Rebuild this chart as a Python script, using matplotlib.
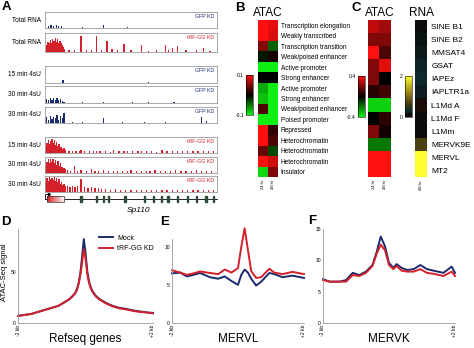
import numpy as np
import matplotlib
matplotlib.use('Agg')
import matplotlib.pyplot as plt
from matplotlib.colors import LinearSegmentedColormap, Normalize
from matplotlib.patches import Rectangle
import matplotlib.colorbar as mcolorbar

plt.rcParams['font.family'] = ['Liberation Sans', 'DejaVu Sans']

W, H = 474, 348
NAVY = '#1c2a6e'
RED = '#d3202a'

# ---------------- panel A : browser tracks ----------------
track_labels = ['Total RNA', 'Total RNA', '15 min 4sU', '30 min 4sU', '30 min 4sU',
                '15 min 4sU', '30 min 4sU', '30 min 4sU']
track_tags = ['GFP KD', 'tRF-GG KD', 'GFP KD', 'GFP KD', 'GFP KD',
              'tRF-GG KD', 'tRF-GG KD', 'tRF-GG KD']

t1_pos = [2.0, 3.5, 5.0, 6.5, 8.0, 9.5, 22, 34, 48]
t1_h = [0.12, 0.18, 0.1, 0.16, 0.14, 0.1, 0.05, 0.2, 0.05]

t2_pos = [1, 1.7, 2.4, 3.1, 3.8, 4.5, 5.2, 5.9, 6.6, 7.3, 8, 8.7, 9.4, 10.1, 10.8, 11.5,
          14, 17, 21, 24, 27, 30, 33, 36, 39, 42, 46, 50, 56, 60, 65, 70, 72, 74, 77, 82, 88, 92, 96]
t2_h = [0.35, 0.55, 0.45, 0.65, 0.5, 0.7, 0.6, 0.75, 0.55, 0.7, 0.5, 0.6, 0.45, 0.35, 0.25, 0.15,
        0.1, 0.1, 0.85, 0.08, 0.1, 0.85, 0.1, 0.6, 0.15, 0.08, 0.4, 0.08, 0.35, 0.06, 0.08, 0.35,
        0.12, 0.2, 0.3, 0.1, 0.08, 0.2, 0.05]

t3_pos = [10.5, 60]
t3_h = [0.15, 0.03]

t4_pos = [1, 2, 3, 4, 5, 6, 7, 8, 9, 10, 11, 22, 34, 51, 60, 75]
t4_h = [0.25, 0.15, 0.3, 0.2, 0.28, 0.18, 0.3, 0.15, 0.25, 0.12, 0.08, 0.04, 0.06, 0.05, 0.04, 0.04]

t5_pos = [1, 2, 3, 4, 5, 6, 7, 8, 9, 10, 11, 16, 22, 34, 45, 58, 70, 91, 94]
t5_h = [0.35, 0.2, 0.45, 0.25, 0.4, 0.3, 0.5, 0.2, 0.45, 0.3, 0.6, 0.04, 0.05, 0.3, 0.06, 0.05,
        0.05, 0.35, 0.12]

t6_pos = [0.5, 1.2, 1.9, 2.6, 3.3, 4.0, 4.7, 5.4, 6.1, 6.8, 7.5, 8.2, 8.9, 9.6, 10.3, 11.0, 11.7,
          14, 16, 18, 20, 21, 23, 26, 28, 30, 32, 35, 38, 40, 43, 46, 48, 51, 54, 56, 59, 62,
          65, 68, 71, 74, 77, 80, 83, 86, 89, 92, 95, 98]
t6_h = [0.4, 0.6, 0.8, 0.55, 0.75, 0.85, 0.6, 0.8, 0.5, 0.7, 0.45, 0.55, 0.35, 0.4, 0.25, 0.3, 0.2,
        0.12, 0.1, 0.15, 0.1, 0.2, 0.1, 0.12, 0.1, 0.15, 0.1, 0.12, 0.08, 0.2, 0.1, 0.12, 0.15,
        0.1, 0.12, 0.1, 0.15, 0.12, 0.08, 0.2, 0.1, 0.12, 0.1, 0.15, 0.1, 0.12, 0.1, 0.15, 0.1, 0.12]

t7_pos = [0.5, 1.2, 1.9, 2.6, 3.3, 4.0, 4.7, 5.4, 6.1, 6.8, 7.5, 8.2, 8.9, 9.6, 10.3, 11.0, 11.7,
          13, 15, 17, 19, 21, 24, 27, 29, 31, 34, 37, 40, 42, 45, 48, 50, 53, 56, 59, 61, 64,
          67, 70, 73, 76, 79, 82, 85, 88, 91, 94, 97]
t7_h = [0.5, 0.7, 0.9, 0.6, 0.85, 0.7, 0.9, 0.65, 0.8, 0.5, 0.75, 0.45, 0.6, 0.35, 0.4, 0.3, 0.25,
        0.2, 0.15, 0.45, 0.12, 0.2, 0.15, 0.25, 0.12, 0.15, 0.2, 0.12, 0.15, 0.1, 0.15, 0.12, 0.2,
        0.1, 0.15, 0.12, 0.1, 0.2, 0.12, 0.15, 0.1, 0.2, 0.12, 0.1, 0.15, 0.2, 0.1, 0.15, 0.12]

t8_pos = [0.5, 1.2, 1.9, 2.6, 3.3, 4.0, 4.7, 5.4, 6.1, 6.8, 7.5, 8.2, 8.9, 9.6, 10.3, 11.0, 11.7,
          13, 14.5, 16, 17.5, 19, 21, 23, 25, 27, 29, 31, 33, 35, 38, 41, 44, 47, 50, 53, 56, 59,
          62, 65, 68, 71, 74, 77, 80, 83, 86, 89, 92, 95, 98]
t8_h = [0.6, 0.85, 0.7, 0.95, 0.8, 0.9, 0.75, 0.95, 0.7, 0.85, 0.6, 0.8, 0.5, 0.65, 0.45, 0.5, 0.4,
        0.35, 0.3, 0.4, 0.3, 0.35, 0.8, 0.3, 0.25, 0.3, 0.22, 0.25, 0.2, 0.2, 0.15, 0.18, 0.12,
        0.15, 0.1, 0.12, 0.15, 0.1, 0.12, 0.1, 0.15, 0.1, 0.12, 0.15, 0.1, 0.12, 0.1, 0.15, 0.1,
        0.12, 0.1]

track_pos = [t1_pos, t2_pos, t3_pos, t4_pos, t5_pos, t6_pos, t7_pos, t8_pos]
track_h = [t1_h, t2_h, t3_h, t4_h, t5_h, t6_h, t7_h, t8_h]
track_rows = [(12, 28), (33, 52), (66, 83), (86, 103), (107, 123), (137, 153), (157, 173), (176, 192)]

exon_first = (1, 11)
exon_pos = [21, 30, 34, 37, 46.5, 58, 63, 67.5, 71.5, 77, 83, 88, 93.5, 98]

# ---------------- panel B : chromatin states ----------------
b_states = ['Transcription elongation', 'Weakly transcribed', 'Transcription transition',
            'Weak/poised enhancer', 'Active promoter', 'Strong enhancer', 'Active promoter',
            'Strong enhancer', 'Weak/poised enhancer', 'Poised promoter', 'Repressed',
            'Heterochromatin', 'Heterochromatin', 'Heterochromatin', 'Insulator']
b_24hr = [0.1, 0.1, 0.05, -0.01, -0.1, 0.0, -0.07, -0.08, 0.03, -0.1, 0.1, 0.1, 0.04, 0.1, -0.09]
b_48hr = [0.09, 0.085, -0.04, 0.01, -0.1, 0.0, -0.1, -0.1, -0.1, -0.1, 0.02, 0.03, -0.03, 0.08, 0.05]

# ---------------- panel C : repeats ----------------
c_repeats = ['SINE B1', 'SINE B2', 'MMSAT4', 'GSAT', 'IAPEz', 'IAPLTR1a', 'L1Md A', 'L1Md F',
             'L1Mm', 'MERVK9E', 'MERVL', 'MT2']
c_atac_24 = [0.3, 0.2, 0.4, 0.2, 0.2, 0.06, -0.35, 0.0, 0.2, -0.2, 0.4, 0.4]
c_atac_48 = [0.25, 0.2, 0.12, 0.35, 0.0, 0.1, -0.35, 0.07, 0.03, -0.2, 0.4, 0.4]
c_rna_48 = [0.12, 0.15, 0.2, 0.27, 0.3, 0.22, 0.06, 0.1, 0.1, 0.7, 2.0, 2.0]

# ---------------- panels D-F : profiles ----------------
d_x = [-2.0, -1.8, -1.6, -1.4, -1.2, -1.0, -0.8, -0.6, -0.5, -0.4, -0.3, -0.25, -0.2, -0.15,
       -0.1, -0.05, 0.0, 0.05, 0.1, 0.15, 0.2, 0.3, 0.4, 0.5, 0.6, 0.8, 1.0, 1.2, 1.4, 1.6, 1.8, 2.0]
d_mock = [7, 8, 9, 11, 13, 15, 17, 21, 23, 26, 30, 34, 40, 50, 66, 83, 70, 52, 42, 36, 32, 27,
          24, 22, 20, 17, 15, 14, 12.5, 11.5, 10.5, 10]
d_kd = [7, 8, 9, 11, 13, 15, 17, 21, 23, 26, 29.5, 33, 39, 48, 60, 73, 64, 49, 40, 35, 31, 26.5,
        23.5, 21.5, 19.5, 16.5, 14.5, 13.5, 12, 11, 10.5, 9.5]

e_x = [-2.0, -1.75, -1.55, -1.35, -1.15, -0.85, -0.6, -0.4, -0.2, 0.0, 0.1, 0.2, 0.3, 0.4, 0.55,
       0.7, 0.95, 1.1, 1.35, 1.65, 2.0]
e_mock = [6.5, 6.6, 6.1, 6.3, 6.55, 6.0, 5.8, 6.1, 5.5, 5.0, 6.3, 7.0, 6.6, 5.8, 4.9, 5.4, 6.55,
          6.4, 6.0, 6.2, 5.9]
e_kd = [6.9, 6.6, 6.3, 6.5, 6.75, 6.55, 6.4, 7.0, 6.6, 7.2, 10.0, 12.4, 9.6, 6.8, 5.9, 6.0, 7.1,
        6.6, 6.4, 6.7, 6.4]

f_x = [-2.0, -1.8, -1.5, -1.3, -1.1, -0.9, -0.7, -0.5, -0.37, -0.25, -0.12, 0.0, 0.13, 0.23,
       0.38, 0.55, 0.75, 0.95, 1.15, 1.35, 1.65, 1.9, 2.0]
f_mock = [7.0, 6.6, 6.6, 6.85, 8.0, 7.65, 8.2, 9.25, 11.4, 13.8, 12.2, 9.6, 8.8, 9.4, 8.8, 8.45,
          8.6, 9.25, 8.6, 8.35, 8.0, 9.0, 8.0]
f_kd = [6.85, 6.6, 6.6, 6.6, 7.65, 7.5, 8.0, 9.1, 11.1, 12.5, 11.6, 9.25, 8.6, 9.1, 8.35, 8.2,
        8.2, 8.6, 8.0, 7.85, 7.5, 8.2, 7.5]


def px(l, t, r, b):
    return [l / W, 1 - b / H, (r - l) / W, (b - t) / H]


fig = plt.figure(figsize=(W / 100, H / 100), dpi=100)

# 面板字母
for letter, x, y in [('A', 2, 1), ('B', 235, 2), ('C', 352, 2), ('D', 1, 216), ('E', 160, 216),
                     ('F', 308, 215)]:
    fig.text(x / W, 1 - y / H, letter, fontsize=9.5, fontweight='bold', va='top', ha='left')

# A: tracks
for i, (top, bot) in enumerate(track_rows):
    ax = fig.add_axes(px(45, top, 217, bot))
    color = NAVY if track_tags[i] == 'GFP KD' else RED
    ax.bar(track_pos[i], track_h[i], width=0.75, color=color, linewidth=0)
    ax.set_xlim(0, 100)
    ax.set_ylim(0, 1)
    ax.set_xticks([])
    ax.set_yticks([])
    for s in ax.spines.values():
        s.set_color('#9a9a9a')
        s.set_linewidth(0.6)
    fig.text(41 / W, 1 - (top + bot) / 2 / H, track_labels[i], ha='right', va='center', fontsize=4.7)
    ax.text(0.985, 0.9, track_tags[i], transform=ax.transAxes, ha='right', va='top',
            fontsize=3.8, color=color)

# gene model
ax = fig.add_axes(px(44, 193, 218, 205))
ax.set_xlim(-0.5, 100.5)
ax.set_ylim(-1, 1)
ax.axis('off')
ax.plot([0, 100], [0, 0], color='black', lw=0.6)
grad = np.linspace(0, 1, 50).reshape(1, -1)
ax.imshow(grad, extent=[exon_first[0], exon_first[1], -0.5, 0.5], aspect='auto',
          cmap=LinearSegmentedColormap.from_list('ex', ['#d82020', '#ffffff']), zorder=2)
ax.add_patch(Rectangle((exon_first[0], -0.5), exon_first[1] - exon_first[0], 1.0, fill=False,
                       edgecolor='#333333', lw=0.5, zorder=3))
for e in exon_pos:
    ax.add_patch(Rectangle((e - 0.35, -0.45), 0.7, 0.9, color='#2f4a35', zorder=3))
ax.plot([0.2, 0.2, 2.2], [0, 0.85, 0.85], color='black', lw=0.6)
ax.plot([2.2], [0.85], marker='>', ms=1.5, color='black')
fig.text(139 / W, 1 - 210 / H, 'Sp110', fontsize=6, style='italic', ha='center', va='center')

# B / C colormaps
rg = LinearSegmentedColormap.from_list('rg', ['#10f010', '#000000', '#ff1010'])
yb = LinearSegmentedColormap.from_list('yb', [(0, '#2a0e00'), (0.05, '#0c0c0c'), (0.15, '#0f2a2c'),
                                              (0.3, '#3c3612'), (0.6, '#9a8418'), (1, '#ffff30')])


def colorbar(box, cmap, vmin, vmax, labels):
    cax = fig.add_axes(px(*box))
    cb = mcolorbar.ColorbarBase(cax, cmap=cmap, norm=Normalize(vmin, vmax), ticks=[vmin, vmax])
    cb.ax.yaxis.set_ticks_position('left')
    cb.ax.set_yticklabels(labels, fontsize=3.6)
    cb.ax.tick_params(length=0, pad=1.5)
    cb.outline.set_linewidth(0.4)


# B heatmap
ax = fig.add_axes(px(258, 20, 278, 177))
ax.imshow(np.column_stack([b_24hr, b_48hr]), cmap=rg, vmin=-0.1, vmax=0.1, aspect='auto')
ax.yaxis.tick_right()
ax.set_yticks(range(len(b_states)))
ax.set_yticklabels(b_states, fontsize=4.7)
ax.set_xticks([0, 1])
ax.set_xticklabels(['24 hr', '48 hr'], rotation=90, fontsize=3)
ax.tick_params(length=0, pad=2)
for s in ax.spines.values():
    s.set_visible(False)
fig.text(268 / W, 1 - 13 / H, 'ATAC', fontsize=8.5, ha='center', va='center')
colorbar((246, 75, 253, 115), rg, -0.1, 0.1, ['-0.1', '0.1'])

# C heatmaps
ax = fig.add_axes(px(368, 20, 391, 177))
ax.imshow(np.column_stack([c_atac_24, c_atac_48]), cmap=rg, vmin=-0.4, vmax=0.4, aspect='auto')
ax.set_yticks([])
ax.set_xticks([0, 1])
ax.set_xticklabels(['24 hr', '48 hr'], rotation=90, fontsize=3)
ax.tick_params(length=0, pad=2)
for s in ax.spines.values():
    s.set_visible(False)
fig.text(380 / W, 1 - 13 / H, 'ATAC', fontsize=8.5, ha='center', va='center')
colorbar((358, 76, 365, 117), rg, -0.4, 0.4, ['-0.4', '0.4'])

ax = fig.add_axes(px(415, 20, 427, 177))
ax.imshow(np.array(c_rna_48).reshape(-1, 1), cmap=yb, vmin=0, vmax=2, aspect='auto')
ax.yaxis.tick_right()
ax.set_yticks(range(len(c_repeats)))
ax.set_yticklabels(c_repeats, fontsize=6)
ax.set_xticks([0])
ax.set_xticklabels(['48 hr'], rotation=90, fontsize=3)
ax.tick_params(length=0, pad=3)
for s in ax.spines.values():
    s.set_visible(False)
fig.text(422 / W, 1 - 13 / H, 'RNA', fontsize=8.5, ha='center', va='center')
colorbar((405, 76, 412, 117), yb, 0, 2, ['0', '2'])


# D-F profiles
def profile(box, x, mock, kd, ylim, yticks, xlabel):
    ax = fig.add_axes(px(*box))
    ax.plot(x, mock, color=NAVY, lw=1.4, label='Mock', clip_on=False)
    ax.plot(x, kd, color=RED, lw=1.4, label='tRF-GG KD', clip_on=False)
    ax.set_xlim(-2, 2)
    ax.set_ylim(*ylim)
    ax.set_yticks(yticks)
    ax.set_yticklabels([str(v) for v in yticks], fontsize=3.6)
    ax.set_xticks([-2, 2])
    ax.set_xticklabels(['-2 kb', '+2 kb'], rotation=90, fontsize=3.6)
    ax.tick_params(length=0, pad=1.5)
    for s in ['top', 'right']:
        ax.spines[s].set_visible(False)
    for s in ['left', 'bottom']:
        ax.spines[s].set_color('#9a9a9a')
        ax.spines[s].set_linewidth(0.6)
    cx = (box[0] + box[2]) / 2
    fig.text(cx / W, 1 - 339 / H, xlabel, fontsize=8.5, ha='center', va='center')
    return ax


ax = profile((18, 229, 153, 323), d_x, d_mock, d_kd, (0, 93), [0, 50], 'Refseq genes')
ax.legend(loc='upper left', bbox_to_anchor=(0.58, 0.97), frameon=False, fontsize=5,
          handlelength=2.0, handletextpad=0.6, labelspacing=0.5, borderaxespad=0)
fig.text(5 / W, 1 - 272 / H, 'ATAC-Seq signal', rotation=90, fontsize=5.5, ha='center', va='center')

profile((172, 239, 304, 323), e_x, e_mock, e_kd, (0, 11), [0, 5, 10], 'MERVL')
profile((323, 229, 455, 323), f_x, f_mock, f_kd, (0, 15), [0, 5, 10, 15], 'MERVK')

fig.savefig('out.png', dpi=100)
